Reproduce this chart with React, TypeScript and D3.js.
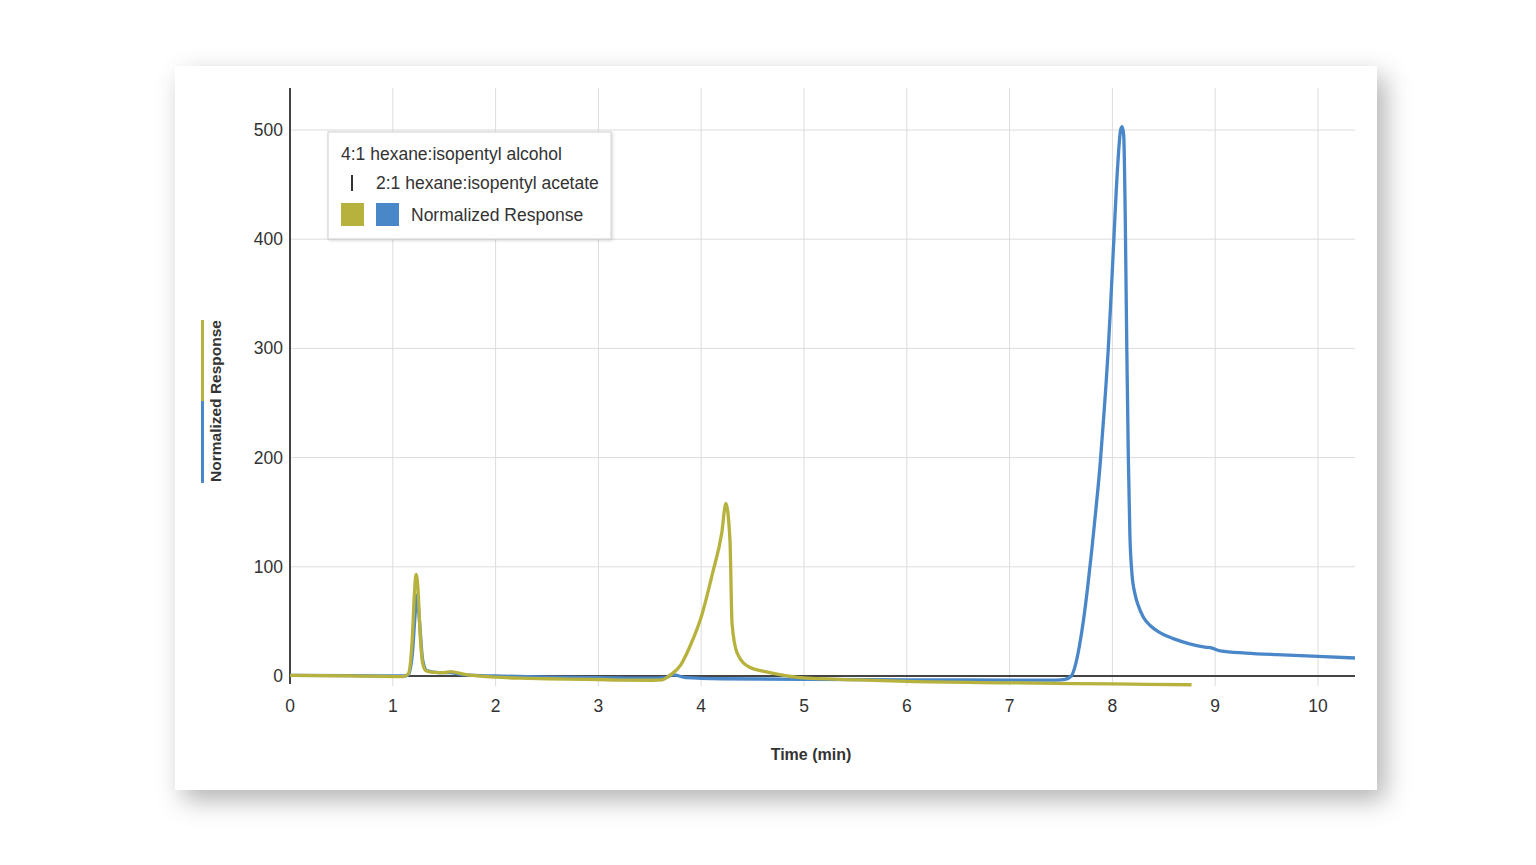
import React from "react";
import * as d3 from "d3";

const xTicks = [0, 1, 2, 3, 4, 5, 6, 7, 8, 9, 10];
const yTicks = [0, 100, 200, 300, 400, 500];

const seriesNames = ["4:1 hexane:isopentyl alcohol", "2:1 hexane:isopentyl acetate"];
const legendLabel = "Normalized Response";
const xTitle = "Time (min)";
const yTitle = "Normalized Response";

// 2:1 hexane:isopentyl acetate (blue)
const acetateTime = [0, 0.6, 1.1, 1.15, 1.19, 1.22, 1.235, 1.26, 1.29, 1.33, 1.45, 1.55, 1.7, 2.0, 2.5, 3.0, 3.5, 3.65, 3.73, 3.85, 4.2, 5, 6, 7, 7.45, 7.54, 7.6, 7.64, 7.68, 7.72, 7.76, 7.8, 7.84, 7.88, 7.92, 7.96, 7.98, 8.01, 8.05, 8.08, 8.095, 8.11, 8.125, 8.14, 8.155, 8.17, 8.19, 8.22, 8.25, 8.3, 8.37, 8.45, 8.6, 8.75, 8.9, 8.97, 9.05, 9.3, 9.6, 10.0, 10.36];
const acetateValue = [0.5, 0.3, 0, 1, 20, 60, 74, 50, 15, 5, 3, 3, 1, 0, -1, -1.5, -2, -1.5, 1, -1.5, -2.5, -3, -3.5, -3.7, -3.7, -3, 0, 10, 28, 52, 82, 116, 153, 193, 243, 300, 335, 392, 465, 500, 503, 495, 420, 300, 200, 130, 94, 75, 65, 54, 46, 40.5, 34, 29.5, 26.5, 25.5, 23, 21, 19.5, 18, 16.5];

// 4:1 hexane:isopentyl alcohol (olive)
const alcoholTime = [0, 0.6, 1.1, 1.15, 1.19, 1.21, 1.226, 1.245, 1.265, 1.29, 1.32, 1.38, 1.5, 1.56, 1.7, 2.0, 2.24, 2.5, 3.0, 3.2, 3.53, 3.62, 3.7, 3.8, 3.89, 4.0, 4.11, 4.2, 4.24, 4.28, 4.3, 4.35, 4.47, 4.6, 4.75, 4.96, 5.5, 6, 7, 8, 8.77];
const alcoholValue = [0.5, 0.2, -0.5, 2, 35, 75, 93, 80, 40, 12, 5, 3.5, 3, 4, 1.5, -1, -2, -2.5, -3.2, -3.7, -3.9, -3.5, 1, 10, 27, 54, 94, 131, 158, 124, 48, 21, 8, 4.5, 1.5, -1.5, -3.5, -5, -6.3, -7.3, -8];

const colors = { alcohol: "#b7b23d", acetate: "#4a87c9" };

export default function App() {
  const x = d3.scaleLinear().domain([0, 10]).range([290, 1318]);
  const y = d3.scaleLinear().domain([0, 500]).range([676, 130]);
  const plotLeft = 290;
  const plotRight = 1355;
  const plotTop = 88;
  const plotBottom = 684;

  const line = d3
    .line<[number, number]>()
    .x((d) => x(d[0]))
    .y((d) => y(d[1]))
    .curve(d3.curveMonotoneX);

  const acetate: [number, number][] = acetateTime.map((t, i) => [t, acetateValue[i]]);
  const alcohol: [number, number][] = alcoholTime.map((t, i) => [t, alcoholValue[i]]);

  const font = "'Liberation Sans', Arial, Helvetica, sans-serif";

  return (
    <div style={{ position: "absolute", left: 0, top: 0 }}>
      <svg width={1536} height={865} style={{ display: "block", fontFamily: font }}>
        <defs>
          <filter id="shadow" x="-10%" y="-10%" width="125%" height="130%">
            <feDropShadow dx="8" dy="10" stdDeviation="13" floodColor="#000" floodOpacity="0.3" />
          </filter>
          <filter id="lshadow" x="-10%" y="-10%" width="125%" height="130%">
            <feDropShadow dx="1" dy="1" stdDeviation="1.5" floodColor="#000" floodOpacity="0.18" />
          </filter>
        </defs>
        <rect x={0} y={0} width={1536} height={865} fill="#ffffff" />
        <rect x={175} y={66} width={1202} height={724} fill="#ffffff" filter="url(#shadow)" />

        {xTicks.filter((t) => t > 0).map((t) => (
          <line key={"vx" + t} x1={x(t)} x2={x(t)} y1={plotTop} y2={plotBottom + 2} stroke="#dcdcdc" strokeWidth={1} />
        ))}
        {yTicks.filter((t) => t > 0).map((t) => (
          <line key={"hy" + t} x1={plotLeft} x2={plotRight} y1={y(t)} y2={y(t)} stroke="#dcdcdc" strokeWidth={1} />
        ))}

        <line x1={plotLeft} x2={plotRight} y1={y(0)} y2={y(0)} stroke="#444" strokeWidth={2} />
        <line x1={plotLeft} x2={plotLeft} y1={plotTop} y2={plotBottom} stroke="#444" strokeWidth={2} />

        {xTicks.map((t) => (
          <text key={"xt" + t} x={x(t)} y={712} textAnchor="middle" fontSize={17.5} fill="#333">
            {t}
          </text>
        ))}
        {yTicks.map((t) => (
          <text key={"yt" + t} x={283} y={y(t) + 6} textAnchor="end" fontSize={17.5} fill="#333">
            {t}
          </text>
        ))}

        <path d={line(acetate) || ""} fill="none" stroke={colors.acetate} strokeWidth={3.3} strokeLinejoin="round" />
        <path d={line(alcohol) || ""} fill="none" stroke={colors.alcohol} strokeWidth={3.3} strokeLinejoin="round" />

        <text x={811} y={760} textAnchor="middle" fontSize={16} fontWeight="bold" fill="#333">
          {xTitle}
        </text>
        <text
          transform="translate(221,401) rotate(-90)"
          textAnchor="middle"
          fontSize={15.5}
          fontWeight="bold"
          fill="#333"
        >
          {yTitle}
        </text>
        <rect x={201} y={320} width={3} height={81} fill={colors.alcohol} />
        <rect x={201} y={401} width={3} height={82} fill={colors.acetate} />

        <rect x={328} y={132} width={283} height={107} fill="#fff" stroke="#cfcfcf" strokeWidth={1} filter="url(#lshadow)" />
        <text x={341} y={160} fontSize={17.5} fill="#333">
          {seriesNames[0]}
        </text>
        <rect x={351} y={175} width={2} height={16} fill="#333" />
        <text x={376} y={189} fontSize={17.5} fill="#333">
          {seriesNames[1]}
        </text>
        <rect x={341} y={203} width={23} height={23} fill={colors.alcohol} />
        <rect x={376} y={203} width={23} height={23} fill={colors.acetate} />
        <text x={411} y={221} fontSize={17.5} fill="#333">
          {legendLabel}
        </text>
      </svg>
    </div>
  );
}
